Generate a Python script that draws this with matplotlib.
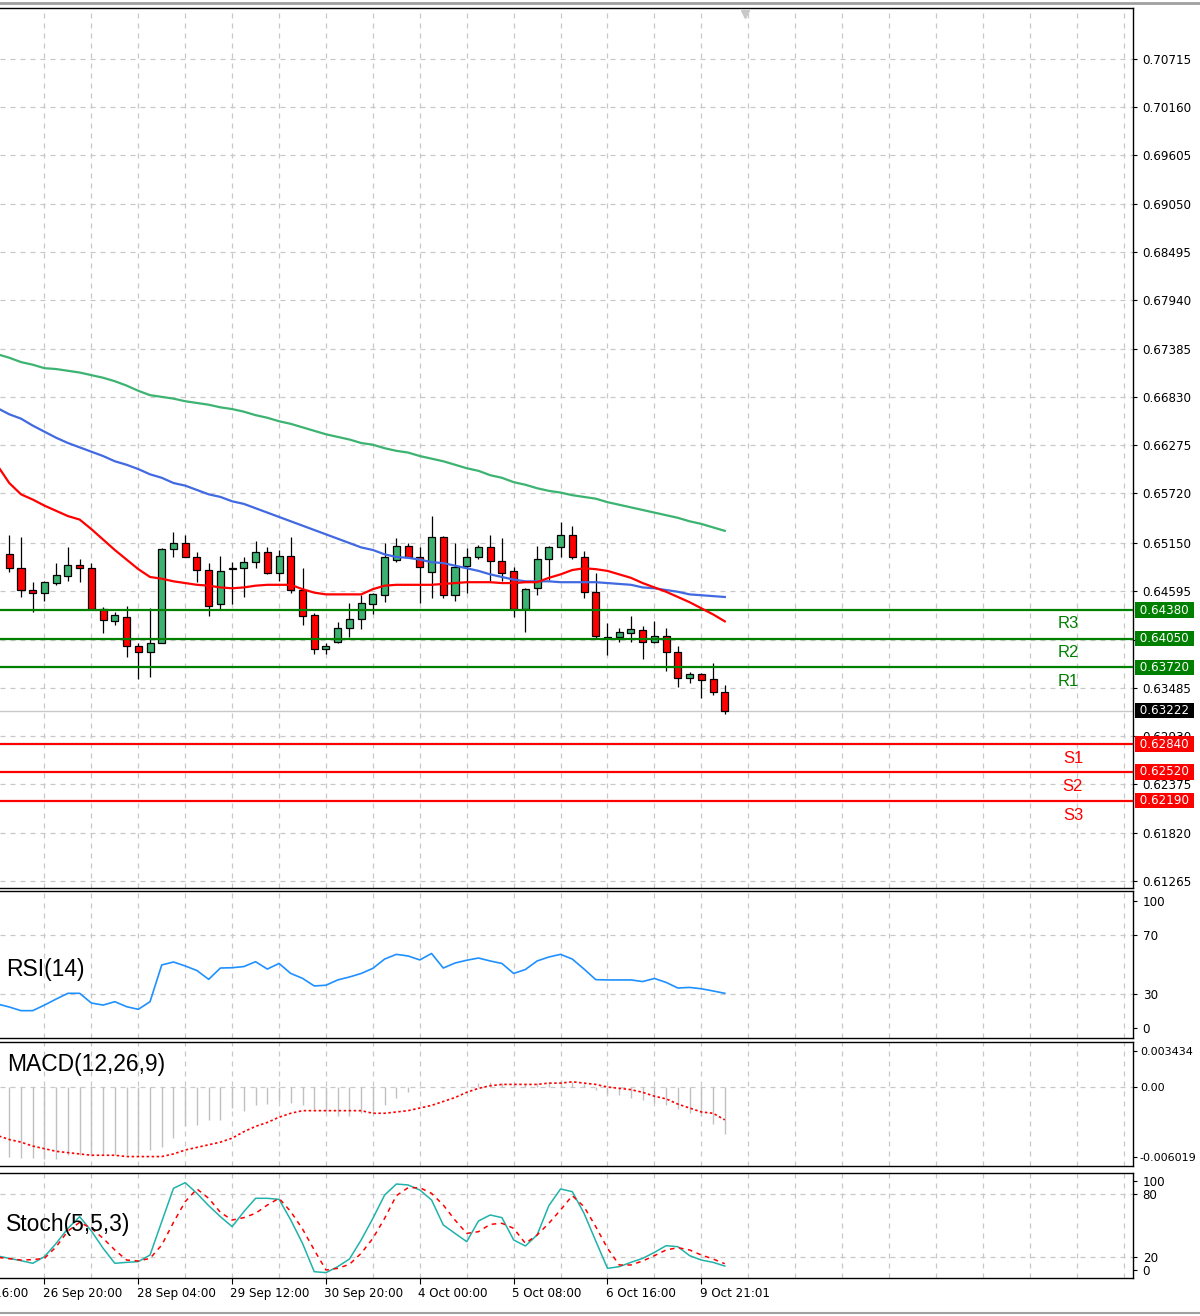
#%%
import numpy as np
import matplotlib.pyplot as plt
from matplotlib.lines import Line2D
from matplotlib.transforms import blended_transform_factory

# %%
# H4 candles, bar index 0..61 (left to right)
opens = [0.65024, 0.64863, 0.64610, 0.64576, 0.64691, 0.64771, 0.64898, 0.64863, 0.64392, 0.64254,
         0.64300, 0.63966, 0.63897, 0.64001, 0.65082, 0.65151, 0.64990, 0.64840, 0.64449, 0.64852,
         0.64863, 0.64932, 0.65047, 0.64806, 0.65001, 0.64610, 0.64323, 0.63932, 0.64012, 0.64173,
         0.64277, 0.64449, 0.64553, 0.64955, 0.65116, 0.64990, 0.64817, 0.65220, 0.64553, 0.64886,
         0.64990, 0.65105, 0.64944, 0.64829, 0.64392, 0.64633, 0.64967, 0.65105, 0.65243, 0.64990,
         0.64587, 0.64070, 0.64070, 0.64116, 0.64150, 0.64012, 0.64081, 0.63897, 0.63598, 0.63644,
         0.63587, 0.63437]
highs = [0.65243, 0.65220, 0.64702, 0.64714, 0.64921, 0.65105, 0.64967, 0.64921, 0.64415, 0.64357,
         0.64426, 0.64001, 0.64403, 0.65093, 0.65277, 0.65243, 0.65047, 0.64921, 0.65001, 0.64932,
         0.64990, 0.65174, 0.65105, 0.65070, 0.65220, 0.64863, 0.64346, 0.64001, 0.64242, 0.64461,
         0.64553, 0.64576, 0.65151, 0.65208, 0.65151, 0.65105, 0.65461, 0.65231, 0.65151, 0.65093,
         0.65128, 0.65243, 0.65208, 0.64875, 0.64633, 0.65116, 0.65116, 0.65392, 0.65346, 0.65059,
         0.64806, 0.64231, 0.64173, 0.64311, 0.64196, 0.64254, 0.64173, 0.63966, 0.63667, 0.63656,
         0.63771, 0.63518]
lows = [0.64817, 0.64530, 0.64357, 0.64484, 0.64668, 0.64714, 0.64702, 0.64385, 0.64116, 0.64208,
        0.63840, 0.63587, 0.63610, 0.64001, 0.64990, 0.64985, 0.64702, 0.64311, 0.64392, 0.64449,
        0.64530, 0.64863, 0.64794, 0.64714, 0.64576, 0.64208, 0.63874, 0.63874, 0.64001, 0.64070,
        0.64162, 0.64334, 0.64472, 0.64932, 0.64978, 0.64461, 0.64518, 0.64518, 0.64484, 0.64576,
        0.64967, 0.64714, 0.64714, 0.64300, 0.64127, 0.64553, 0.64725, 0.64990, 0.64967, 0.64518,
        0.64058, 0.63863, 0.64012, 0.64012, 0.63817, 0.64001, 0.63679, 0.63495, 0.63541, 0.63368,
        0.63403, 0.63190]
closes = [0.64863, 0.64610, 0.64576, 0.64702, 0.64783, 0.64898, 0.64863, 0.64390, 0.64265, 0.64323,
          0.63966, 0.63897, 0.64001, 0.65082, 0.65151, 0.64990, 0.64840, 0.64426, 0.64829, 0.64863,
          0.64932, 0.65047, 0.64806, 0.65001, 0.64610, 0.64311, 0.63932, 0.63966, 0.64173, 0.64277,
          0.64461, 0.64564, 0.64990, 0.65116, 0.64990, 0.64875, 0.65220, 0.64553, 0.64875, 0.64990,
          0.65105, 0.64944, 0.64806, 0.64392, 0.64622, 0.64967, 0.65105, 0.65243, 0.64990, 0.64587,
          0.64081, 0.64058, 0.64127, 0.64162, 0.64012, 0.64081, 0.63897, 0.63598, 0.63644, 0.63575,
          0.63437, 0.63222]

# moving averages, bar index -1..61
ma_red = [0.6604, 0.6584, 0.6571, 0.6565, 0.6558, 0.6552, 0.6546, 0.6542, 0.6531, 0.6519,
          0.6507, 0.6496, 0.6485, 0.6476, 0.6474, 0.6471, 0.6469, 0.6467, 0.6466, 0.6464,
          0.6463, 0.6464, 0.6466, 0.6467, 0.6467, 0.6467, 0.6462, 0.6458, 0.6456, 0.6456,
          0.6456, 0.6456, 0.6462, 0.6466, 0.6467, 0.6467, 0.6467, 0.6467, 0.6468, 0.6469,
          0.6470, 0.6470, 0.6470, 0.6469, 0.6469, 0.6470, 0.6470, 0.6475, 0.6479, 0.6484,
          0.6486, 0.6485, 0.6483, 0.6479, 0.6475, 0.6469, 0.6464, 0.6459, 0.6453, 0.6447,
          0.6440, 0.6433, 0.6425]
ma_blue = [0.6670, 0.6663, 0.6658, 0.6650, 0.6643, 0.6636, 0.6630, 0.6625, 0.6620, 0.6615,
           0.6609, 0.6605, 0.6600, 0.6594, 0.6590, 0.6584, 0.6581, 0.6576, 0.6571, 0.6568,
           0.6563, 0.6560, 0.6555, 0.6550, 0.6545, 0.6540, 0.6535, 0.6530, 0.6525, 0.6520,
           0.6515, 0.6510, 0.6507, 0.6502, 0.6499, 0.6498, 0.6496, 0.6493, 0.6492, 0.6489,
           0.6486, 0.6483, 0.6479, 0.6476, 0.6473, 0.6471, 0.6471, 0.6471, 0.6470, 0.6470,
           0.6470, 0.6470, 0.6469, 0.6468, 0.6467, 0.6464, 0.6463, 0.6461, 0.6459, 0.6456,
           0.6455, 0.6454, 0.6453]
ma_green = [0.6732, 0.6728, 0.6723, 0.6720, 0.6716, 0.6715, 0.6713, 0.6711, 0.6708, 0.6705,
            0.6701, 0.6696, 0.6690, 0.6685, 0.6683, 0.6681, 0.6678, 0.6676, 0.6674, 0.6671,
            0.6669, 0.6666, 0.6662, 0.6659, 0.6655, 0.6652, 0.6648, 0.6644, 0.6640, 0.6637,
            0.6634, 0.6630, 0.6628, 0.6624, 0.6621, 0.6619, 0.6615, 0.6612, 0.6609, 0.6605,
            0.6601, 0.6598, 0.6593, 0.6590, 0.6585, 0.6582, 0.6578, 0.6575, 0.6573, 0.6570,
            0.6568, 0.6566, 0.6562, 0.6559, 0.6556, 0.6553, 0.6550, 0.6547, 0.6544, 0.6540,
            0.6537, 0.6533, 0.6529]

# indicators, bar index -1..61 (histogram 0..61)
rsi = [23.1, 21.1, 18.6, 18.6, 22.4, 26.5, 30.4, 30.4, 23.8, 22.4,
       24.7, 21.3, 19.5, 24.7, 49.7, 51.7, 49.0, 45.9, 39.9, 47.6,
       47.8, 48.6, 51.9, 46.9, 50.7, 43.9, 40.6, 35.4, 35.9, 39.5,
       41.5, 43.9, 47.4, 53.7, 56.9, 55.8, 53.1, 57.5, 47.6, 51.0,
       52.9, 54.4, 52.4, 50.7, 43.9, 46.6, 52.4, 55.1, 56.9, 53.7,
       46.9, 39.7, 39.5, 39.5, 39.5, 38.4, 40.5, 37.8, 34.0, 34.4,
       33.5, 32.0, 30.4]
macd_hist = [-0.0053, -0.0054, -0.0054, -0.0055, -0.0055, -0.0052, -0.0052, -0.0052, -0.0052, -0.0052,
             -0.0052, -0.0050, -0.0048, -0.0046, -0.0039, -0.0030, -0.0029, -0.0025, -0.0025, -0.0016,
             -0.0018, -0.0014, -0.0013, -0.0011, -0.0012, -0.0014, -0.0017, -0.0018, -0.0022, -0.0022,
             -0.0020, -0.0018, -0.0014, -0.0008, -0.0004, -0.0001, 0.0000, -0.0001, 0.0000, 0.0001,
             0.0003, 0.0004, 0.0003, 0.0002, 0.0002, 0.0003, 0.0004, 0.0005, 0.0004, 0.0002,
             -0.0002, -0.0005, -0.0006, -0.0008, -0.0010, -0.0012, -0.0014, -0.0017, -0.0020, -0.0022,
             -0.0028, -0.0036]
macd_signal = [-0.0037, -0.0040, -0.0042, -0.0045, -0.0047, -0.0049, -0.0050, -0.0051, -0.0052, -0.0052,
               -0.0052, -0.0053, -0.0053, -0.0053, -0.0053, -0.0051, -0.0048, -0.0046, -0.0044, -0.0042,
               -0.0039, -0.0034, -0.0030, -0.0027, -0.0023, -0.0020, -0.0018, -0.0018, -0.0018, -0.0018,
               -0.0018, -0.0018, -0.0020, -0.0020, -0.0019, -0.0018, -0.0016, -0.0014, -0.0011, -0.0008,
               -0.0004, -0.0001, 0.0001, 0.0002, 0.0002, 0.0002, 0.0002, 0.0003, 0.0003, 0.0004,
               0.0003, 0.0002, 0.0000, -0.0001, -0.0002, -0.0004, -0.0007, -0.0009, -0.0013, -0.0016,
               -0.0019, -0.0020, -0.0025]
stoch_k = [21.0, 18.7, 16.5, 14.0, 20.3, 33.0, 47.3, 58.4, 44.8, 28.3,
           14.0, 14.9, 15.6, 21.9, 53.7, 85.4, 90.8, 80.6, 68.9, 58.4,
           48.9, 63.2, 75.9, 75.9, 74.9, 55.2, 33.0, 6.0, 5.1, 10.8,
           18.1, 36.2, 56.8, 79.0, 89.5, 88.6, 83.8, 74.3, 50.5, 42.5,
           34.6, 54.3, 60.0, 57.5, 36.2, 30.5, 41.0, 68.9, 84.8, 82.2,
           61.6, 35.2, 9.2, 10.8, 14.9, 18.7, 24.4, 30.8, 29.8, 21.3,
           17.1, 14.9, 11.4]
stoch_d = [19.7, 18.4, 17.1, 17.5, 18.7, 29.8, 44.8, 53.0, 47.3, 37.8,
           26.7, 17.1, 16.2, 18.7, 31.4, 53.0, 72.7, 84.8, 75.9, 62.5,
           55.2, 57.5, 61.6, 69.5, 75.9, 63.2, 46.7, 26.7, 7.6, 9.2,
           13.0, 23.5, 37.8, 56.8, 78.4, 86.0, 86.0, 80.6, 69.5, 55.2,
           42.5, 44.1, 51.1, 52.1, 47.3, 33.0, 41.0, 52.1, 64.8, 78.4,
           67.9, 48.9, 28.3, 12.4, 12.4, 16.2, 21.3, 26.7, 28.9, 26.7,
           21.9, 18.1, 13.6]

# support / resistance
res_levels = [0.64380, 0.64050, 0.63720]
res_names = ['R3', 'R2', 'R1']
sup_levels = [0.62840, 0.62520, 0.62190]
sup_names = ['S1', 'S2', 'S3']
last_price = 0.63222

price_ticks = [0.70715, 0.70160, 0.69605, 0.69050, 0.68495, 0.67940, 0.67385, 0.66830, 0.66275,
               0.65720, 0.65150, 0.64595, 0.64040, 0.63485, 0.62930, 0.62375, 0.61820, 0.61265]
hidden_ticks = [0.64040]  # covered by the R2 price box on the reference
date_pos = [-5, 3, 11, 19, 27, 35, 43, 51, 59]
date_labels = ['25 Sep 16:00', '26 Sep 20:00', '28 Sep 04:00', '29 Sep 12:00', '30 Sep 20:00',
               '4 Oct 00:00', '5 Oct 08:00', '6 Oct 16:00', '9 Oct 21:01']

#%%
W, H = 1200, 1316
fig = plt.figure(figsize=(W / 100, H / 100), dpi=100)
fig.patch.set_facecolor('white')

def panel(top, bottom):
    return fig.add_axes([0, 1 - bottom / H, 1133 / W, (bottom - top) / H])

ax = panel(8, 888)
ax_rsi = panel(891, 1038)
ax_macd = panel(1042, 1166)
ax_st = panel(1173, 1278)

grid_kw = dict(color='#c8c8c8', lw=0.9, ls=(0, (4, 4)))
label_font = dict(family='Liberation Sans', fontsize=16.5, color='black')
axis_fs = 8.6

grid_x = np.arange(3, 96, 4)
date_ticks = [p for p in date_pos if p >= 0]

for a in (ax, ax_rsi, ax_macd, ax_st):
    a.set_xlim(-0.79, 95.8)
    a.set_xticks(date_ticks)
    a.set_xticks([g for g in grid_x if g not in date_ticks], minor=True)
    a.grid(axis='x', which='both', **grid_kw)
    a.spines['left'].set_visible(False)
    for s in ('top', 'right', 'bottom'):
        a.spines[s].set_linewidth(1.0)
    a.yaxis.tick_right()
    a.tick_params(axis='y', which='both', direction='out', length=3, width=0.8,
                  pad=4, labelsize=axis_fs, labelcolor='black')
    a.tick_params(axis='x', which='both', length=0, labelbottom=False)
    a.set_axisbelow(True)

idx = np.arange(len(opens))
ma_x = np.arange(-1, 62)

#%%
# main price panel
ax.set_ylim(0.61185, 0.71300)
ax.set_yticks(price_ticks)
ax.set_yticklabels(['' if p in hidden_ticks else f'{p:.5f}' for p in price_ticks])
ax.grid(axis='y', **grid_kw)

o, h, l, c = map(np.array, (opens, highs, lows, closes))
up = c >= o
ax.vlines(idx, l, h, color='black', lw=0.9, zorder=3)
ax.bar(idx, np.maximum(np.abs(c - o), 0.00003), bottom=np.minimum(o, c), width=0.6,
       color=np.where(up, '#3cb371', '#ff0000'), edgecolor='black', lw=0.9, zorder=4)

ax.axhline(last_price, color='#c8c8c8', lw=1, zorder=2)
for lvl in res_levels:
    ax.axhline(lvl, color='#008000', lw=1.6, zorder=4.5)
for lvl in sup_levels:
    ax.axhline(lvl, color='#ff0000', lw=1.6, zorder=4.5)

ax.plot(ma_x, ma_green, color='#3cb371', lw=1.6, zorder=5)
ax.plot(ma_x, ma_blue, color='#4169e1', lw=1.6, zorder=5)
ax.plot(ma_x, ma_red, color='#ff0000', lw=1.6, zorder=5)

trans = blended_transform_factory(ax.transAxes, ax.transData)
for lvl, name in zip(res_levels, res_names):
    ax.annotate(name, xy=(0.9426, lvl), xycoords=trans, xytext=(0, -10),
                textcoords='offset points', ha='center', va='center',
                family='Liberation Sans', fontsize=12, color='#008000', zorder=6)
for lvl, name in zip(sup_levels, sup_names):
    ax.annotate(name, xy=(0.947, lvl), xycoords=trans, xytext=(0, -10.5),
                textcoords='offset points', ha='center', va='center',
                family='Liberation Sans', fontsize=12, color='#ff0000', zorder=6)

box_items = ([(v, '#008000') for v in res_levels] + [(last_price, 'black')]
             + [(v, '#ff0000') for v in sup_levels])
for v, col in box_items:
    ax.text(1.0028, v, f' {v:.5f} ', transform=trans, ha='left', va='center',
            fontsize=axis_fs, color='white', clip_on=False, zorder=10,
            bbox=dict(boxstyle='square,pad=0.1', fc=col, ec='none'))

# chart shift marker
ax.plot([0.6575], [0.993], marker='v', ms=6, color='#c8c8c8', transform=ax.transAxes,
        clip_on=False, zorder=6)

#%%
# RSI
ax_rsi.set_ylim(0, 100)
ax_rsi.set_yticks([93, 70, 30, 7])
ax_rsi.set_yticklabels(['100', '70', '30', '0'])
for lvl in (70, 30):
    ax_rsi.axhline(lvl, **grid_kw)
ax_rsi.plot(ma_x, rsi, color='#1e90ff', lw=1.2)
ax_rsi.text(0.0053, 0.463, 'RSI(14)', transform=ax_rsi.transAxes, va='center', **label_font)

# MACD
ax_macd.set_ylim(-0.006019, 0.003434)
ax_macd.set_yticks([0.00272, 0.0, -0.00536])
ax_macd.set_yticklabels(['0.003434', '0.00', '-0.006019'])
ax_macd.tick_params(axis='y', labelsize=8.0, pad=2)
ax_macd.axhline(0, **grid_kw)
ax_macd.vlines(idx, 0, macd_hist, color='#c0c0c0', lw=1)
ax_macd.plot(ma_x, macd_signal, color='#ff0000', lw=1.2, ls=(0, (1.5, 1.5)))
ax_macd.text(0.0062, 0.815, 'MACD(12,26,9)', transform=ax_macd.transAxes, va='center', **label_font)

# Stochastic
ax_st.set_ylim(0, 100)
ax_st.set_yticks([92.4, 80, 20, 7.6])
ax_st.set_yticklabels(['100', '80', '20', '0'])
for lvl in (80, 20):
    ax_st.axhline(lvl, **grid_kw)
ax_st.plot(ma_x, stoch_k, color='#20b2aa', lw=1.1)
ax_st.plot(ma_x, stoch_d, color='#ff0000', lw=1.1, ls=(0, (3, 3)))
ax_st.text(0.0053, 0.514, 'Stoch(5,5,3)', transform=ax_st.transAxes, va='center', **label_font)

ax_st.tick_params(axis='x', which='major', direction='out', length=4, width=0.8)
st_trans = blended_transform_factory(ax_st.transData, ax_st.transAxes)
for pos, lab in zip(date_pos, date_labels):
    ax_st.text(pos - 0.15, -0.143, lab, transform=st_trans, ha='left', va='center',
               fontsize=axis_fs, color='black', clip_on=False)

# window frame lines
fig.add_artist(Line2D([0, 1], [1 - 3 / H, 1 - 3 / H], transform=fig.transFigure, color='#a0a0a0', lw=2))
fig.add_artist(Line2D([0, 1], [1 - 1313 / H, 1 - 1313 / H], transform=fig.transFigure, color='#a0a0a0', lw=1.5))

fig.savefig('out.png', dpi=100)
